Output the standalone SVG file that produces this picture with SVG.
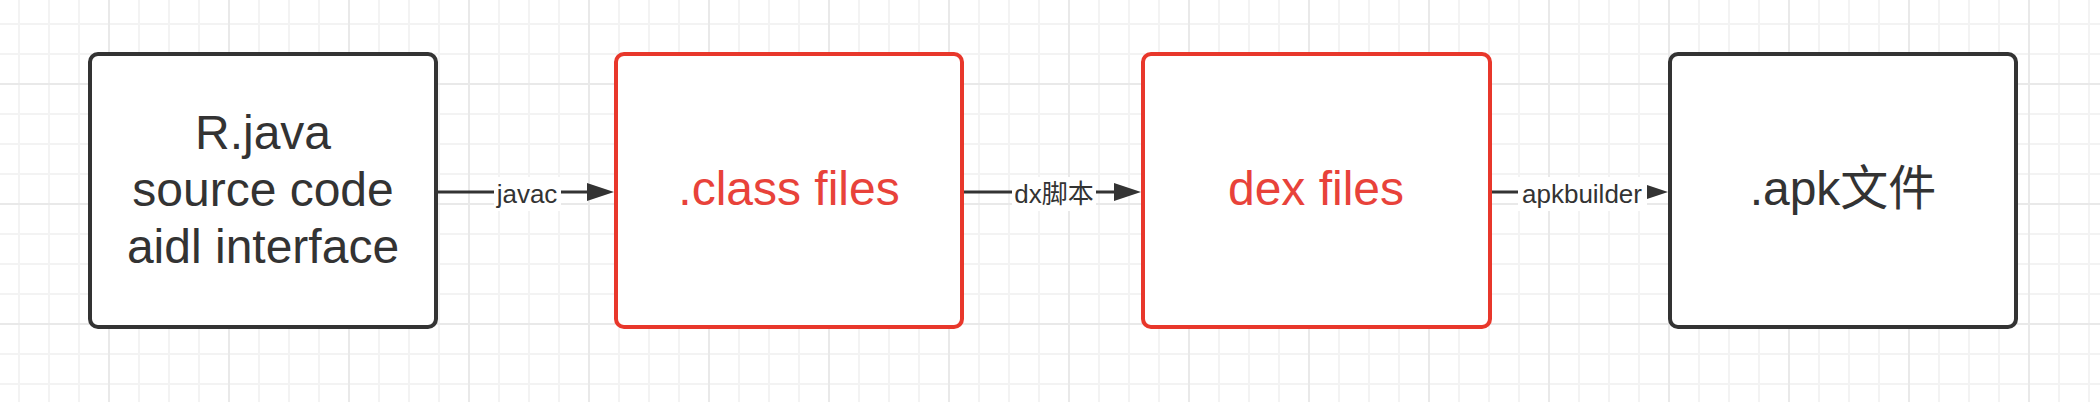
<svg xmlns="http://www.w3.org/2000/svg" width="2100" height="402" viewBox="0 0 2100 402">
  <style>
    .box { fill: #ffffff; stroke-width: 4; }
    .dark { stroke: #333333; }
    .red { stroke: #e8372b; }
    .t { font-family: "Liberation Sans", Arial, "Noto Sans CJK SC", sans-serif; font-size: 48px; text-anchor: middle; }
    .td { fill: #333333; }
    .tr { fill: #e8423a; }
    .conn { stroke: #333333; stroke-width: 3; fill: none; }
    .lbg { fill: #ffffff; }
    .lbl { font-family: "Liberation Sans", Arial, "Noto Sans CJK SC", sans-serif; font-size: 26px; fill: #333333; text-anchor: middle; }
  </style>
  <defs>
    <pattern id="grid" patternUnits="userSpaceOnUse" x="-12" y="-37" width="120" height="120">
      <rect x="30" y="0" width="2" height="120" fill="#f3f3f3"/>
      <rect x="60" y="0" width="2" height="120" fill="#f3f3f3"/>
      <rect x="90" y="0" width="2" height="120" fill="#f3f3f3"/>
      <rect x="0" y="30" width="120" height="2" fill="#f3f3f3"/>
      <rect x="0" y="60" width="120" height="2" fill="#f3f3f3"/>
      <rect x="0" y="90" width="120" height="2" fill="#f3f3f3"/>
      <rect x="0" y="0" width="2" height="120" fill="#e9e9e9"/>
      <rect x="0" y="0" width="120" height="2" fill="#e9e9e9"/>
    </pattern>
    <marker id="arrow" markerUnits="userSpaceOnUse" markerWidth="28" markerHeight="18" refX="0" refY="9" orient="auto">
      <path d="M0,0 L27,9 L0,18 Z" fill="#333333"/>
    </marker>
  </defs>

  <rect x="0" y="0" width="2100" height="402" fill="#ffffff"/>
  <rect x="0" y="0" width="2100" height="402" fill="url(#grid)"/>

  <g id="connectors">
    <g id="c1">
      <line class="conn" x1="438" y1="192" x2="587" y2="192" marker-end="url(#arrow)"/>
      <rect class="lbg" x="494" y="177" width="67" height="34"/>
      <text class="lbl" x="527" y="203">javac</text>
    </g>
    <g id="c2">
      <line class="conn" x1="964" y1="192" x2="1114" y2="192" marker-end="url(#arrow)"/>
      <rect class="lbg" x="1012" y="177" width="84" height="34"/>
      <text class="lbl" x="1054" y="203">dx脚本</text>
    </g>
    <g id="c3">
      <line class="conn" x1="1492" y1="192" x2="1641" y2="192" marker-end="url(#arrow)"/>
      <rect class="lbg" x="1518" y="177" width="129" height="34"/>
      <text class="lbl" x="1582" y="203">apkbuilder</text>
    </g>
  </g>

  <g id="node1">
    <rect class="box dark" x="90" y="54" width="346" height="273" rx="8" ry="8"/>
    <text class="t td" x="263" y="149">R.java</text>
    <text class="t td" x="263" y="206">source code</text>
    <text class="t td" x="263" y="263">aidl interface</text>
  </g>
  <g id="node2">
    <rect class="box red" x="616" y="54" width="346" height="273" rx="8" ry="8"/>
    <text class="t tr" x="789" y="205">.class files</text>
  </g>
  <g id="node3">
    <rect class="box red" x="1143" y="54" width="347" height="273" rx="8" ry="8"/>
    <text class="t tr" x="1316" y="205">dex files</text>
  </g>
  <g id="node4">
    <rect class="box dark" x="1670" y="54" width="346" height="273" rx="8" ry="8"/>
    <text class="t td" x="1843" y="205">.apk文件</text>
  </g>
</svg>
